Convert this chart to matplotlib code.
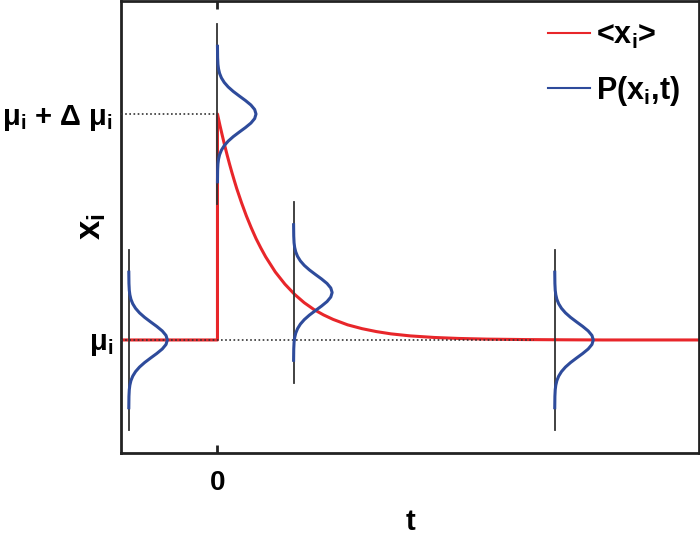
import matplotlib
matplotlib.use("Agg")
import matplotlib.pyplot as plt
import numpy as np

plt.rcParams['font.family'] = 'Liberation Sans'
plt.rcParams['font.weight'] = 'bold'
plt.rcParams['mathtext.fontset'] = 'custom'
plt.rcParams['mathtext.rm'] = 'Liberation Sans:bold'
plt.rcParams['mathtext.it'] = 'Liberation Sans:bold'
plt.rcParams['mathtext.bf'] = 'Liberation Sans:bold'

# mean <x_i> after the step at t=0
t_decay = [0.0, 0.025, 0.05, 0.075, 0.1, 0.125, 0.15, 0.175, 0.2, 0.25, 0.3, 0.35, 0.4,
           0.45, 0.5, 0.6, 0.7, 0.8, 0.9, 1.0, 1.1, 1.2, 1.35, 1.5, 1.65, 1.8, 2.0,
           2.25, 2.5, 2.8, 3.2, 3.6, 4.0, 5.0]
x_decay = [1.0, 0.951, 0.905, 0.861, 0.819, 0.779, 0.741, 0.705, 0.670, 0.607, 0.549,
           0.497, 0.449, 0.407, 0.368, 0.301, 0.247, 0.202, 0.165, 0.135, 0.111, 0.091,
           0.067, 0.050, 0.037, 0.027, 0.018, 0.011, 0.0067, 0.0037, 0.0017, 0.0007,
           0.0, 0.0]
t_before = [-1.0, 0.0]
x_before = [0.0, 0.0]

# distribution profile P(x_i,t): offset from mean vs. height
prof_dy = [-0.30, -0.25, -0.22, -0.20, -0.18, -0.16, -0.14, -0.12, -0.10, -0.08, -0.06,
           -0.04, -0.02, 0.0, 0.02, 0.04, 0.06, 0.08, 0.10, 0.12, 0.14, 0.16, 0.18,
           0.20, 0.22, 0.25, 0.30]
prof_w = [0.0, 0.0015, 0.005, 0.011, 0.022, 0.041, 0.070, 0.111, 0.164, 0.226, 0.290,
          0.347, 0.386, 0.40, 0.386, 0.347, 0.290, 0.226, 0.164, 0.111, 0.070, 0.041,
          0.022, 0.011, 0.005, 0.0015, 0.0]
dist_t = [-0.92, 0.0, 0.79, 3.5]
dist_mean = [0.0, 1.0, 0.21, 0.0]
bar_half = 0.4

mu = 0.0
dmu = 1.0

red = '#e8262a'
blue = '#2e4b9b'

fig, ax = plt.subplots(figsize=(7, 5.36), dpi=100)
fig.subplots_adjust(left=0.173, right=0.999, top=0.998, bottom=0.155)

# red mean curve
ax.plot(t_before + [0.0] + t_decay, x_before + [0.0] + x_decay,
        color=red, lw=2.2, zorder=2)

# dotted guide lines
ax.plot([-1, 3.28], [mu, mu], color='#333333', lw=1.2, ls=(0, (1, 1.5)), zorder=3)
ax.plot([-1, 0], [mu + dmu, mu + dmu], color='#333333', lw=1.2, ls=(0, (1, 1.5)), zorder=3)

# distributions
dy = np.array(prof_dy)
w = np.array(prof_w)
for i in range(len(dist_t)):
    t0 = dist_t[i]
    m = dist_mean[i]
    ax.plot([t0, t0], [m - bar_half, m + bar_half], color='#333333', lw=1.3, zorder=4)
    ax.plot(t0 + w, m + dy, color=blue, lw=2.2, zorder=5)

# legend handles
ax.plot([], [], color=red, lw=1.5, label='<x$_i$>')
ax.plot([], [], color=blue, lw=1.5, label='P(x$_i$,t)')
ax.legend(loc='upper right', frameon=False, fontsize=22, handlelength=1.35,
          handletextpad=0.2, labelspacing=0.75, borderaxespad=0.25)

ax.set_xlim(-1, 5)
ax.set_ylim(-0.5, 1.5)
ax.set_xticks([0])
ax.set_xticklabels(['0'], fontsize=20, fontweight='bold')
ax.set_yticks([mu, mu + dmu])
ax.set_yticklabels(['μ$_i$', 'μ$_i$ + Δ μ$_i$'], fontsize=21, fontweight='bold')
ax.tick_params(axis='x', direction='in', top=True, length=6, width=2, pad=12, color='#222222')
ax.tick_params(axis='y', length=0, pad=6)
ax.set_xlabel('t', fontsize=21, fontweight='bold', va='top')
ax.xaxis.set_label_coords(0.5, -0.122)
ax.set_ylabel('x$_i$', fontsize=25, fontweight='bold')
ax.yaxis.set_label_coords(-0.022, 0.5)
for s in ax.spines.values():
    s.set_linewidth(2)
    s.set_color('#222222')

fig.savefig('out.png', dpi=100)
